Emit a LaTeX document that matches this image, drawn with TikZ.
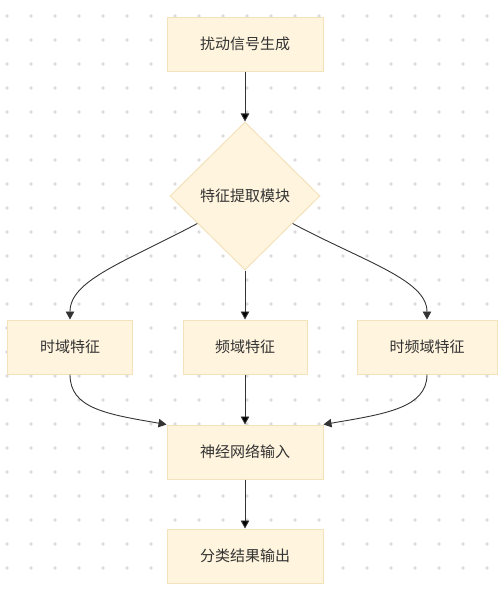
\documentclass[tikz,border=0pt]{standalone}
\usepackage{fontspec}
\setmainfont{Noto Sans CJK SC}
\usepackage{tikz}
\usetikzlibrary{shapes.geometric,arrows.meta,positioning}

\definecolor{boxfill}{HTML}{FFF4DD}
\definecolor{boxline}{HTML}{F3E2BC}
\definecolor{dotgray}{HTML}{DADADA}
\definecolor{linkgray}{HTML}{333333}

\begin{document}
\begin{tikzpicture}[x=1pt,y=-1pt,
	stepbox/.style={draw=boxline,fill=boxfill,line width=1pt,inner sep=0pt,
		minimum height=54pt,font=\fontsize{15pt}{18pt}\selectfont,text=linkgray},
	choice/.style={shape=diamond,draw=boxline,fill=boxfill,line width=1pt,inner sep=0pt,
		minimum width=150pt,minimum height=148pt,font=\fontsize{15pt}{18pt}\selectfont,text=linkgray},
	link/.style={draw=linkgray,line width=0.9pt,-{Triangle[length=8pt,width=8.5pt]}}]
	\useasboundingbox (0,0) rectangle (503,589);
	% dotted background
	\foreach \i in {0,...,20}
		\foreach \j in {0,...,24}
			\fill[dotgray] (7+24*\i,16+24*\j) circle (1.8);

	\node[stepbox,minimum width=156pt] (gen) at (245,44) {扰动信号生成};
	\node[choice] (feat) at (245,196) {特征提取模块};
	\node[stepbox,minimum width=125pt] (time) at (70,347) {时域特征};
	\node[stepbox,minimum width=124pt] (freq) at (245,347) {频域特征};
	\node[stepbox,minimum width=140pt] (tf) at (427,347) {时频域特征};
	\node[stepbox,minimum width=156pt] (nn) at (245,452) {神经网络输入};
	\node[stepbox,minimum width=156pt] (out) at (245,556) {分类结果输出};

	\path [link] (gen) edge (feat);
	\path [link] (feat.210) .. controls (125,262) and (70,280) .. (time.north);
	\path [link] (feat) edge (freq);
	\path [link] (feat.330) .. controls (365,262) and (427,280) .. (tf.north);
	\path [link] (time.south) .. controls (70,408) and (105,414) .. (nn.north west);
	\path [link] (freq) edge (nn);
	\path [link] (tf.south) .. controls (427,408) and (385,414) .. (nn.north east);
	\path [link] (nn) edge (out);
\end{tikzpicture}
\end{document}
